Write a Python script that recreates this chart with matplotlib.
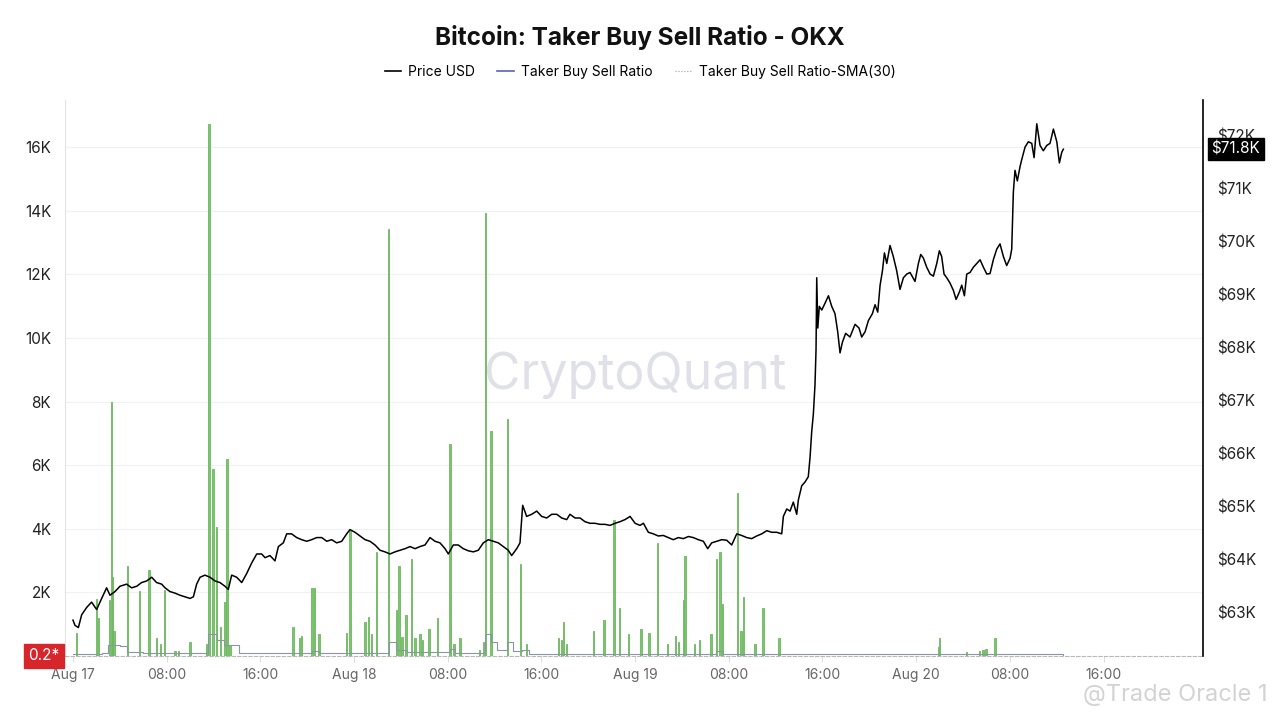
import matplotlib
matplotlib.use("Agg")
import matplotlib.pyplot as plt
from matplotlib.lines import Line2D
import numpy as np

plt.rcParams['font.family'] = ['Inter', 'DejaVu Sans']

# hours since Aug 17 00:00
price_hours = [
    0.0, 0.17, 0.46, 0.74, 1.17, 1.59, 2.02, 2.45, 2.87, 3.16, 3.59, 4.01, 4.58, 5.01, 5.44,
    5.86, 6.29, 6.72, 7.14, 7.57, 7.86, 8.28, 8.71, 9.14, 9.56, 9.99, 10.28, 10.56, 10.85,
    11.27, 11.70, 12.13, 12.55, 12.98, 13.26, 13.55, 13.98, 14.41, 14.83, 15.26, 15.69,
    16.11, 16.40, 16.82, 17.25, 17.54, 17.96, 18.25, 18.67, 19.10, 19.53, 19.96, 20.38,
    20.81, 21.24, 21.67, 22.09, 22.52, 22.95, 23.37,
    23.65, 24.08, 24.51, 24.94, 25.36, 25.79, 26.22, 26.64, 27.07, 27.50, 27.92, 28.35,
    28.78, 29.21, 29.63, 30.06, 30.49, 30.91, 31.34, 31.77, 32.05, 32.48, 32.90, 33.33,
    33.76, 34.18, 34.61, 35.04, 35.47, 35.89, 36.32, 36.75, 37.17, 37.46, 37.89, 38.17,
    38.40, 38.74, 39.17, 39.60, 40.02, 40.45, 40.88, 41.31, 41.73, 42.16, 42.44, 42.87,
    43.30, 43.72, 44.15, 44.58, 45.00, 45.43, 45.86, 46.29, 46.71, 47.14, 47.57,
    48.00, 48.42, 48.71, 49.13, 49.56, 49.98, 50.41, 50.84, 51.26, 51.69, 52.12, 52.55,
    52.97, 53.40, 53.83, 54.20, 54.54, 54.97, 55.40, 55.82, 56.25, 56.68, 57.10, 57.53,
    57.96, 58.38, 58.81, 59.24, 59.67, 60.09, 60.52, 60.66, 60.95, 61.23, 61.51, 61.80,
    61.94, 62.23, 62.51, 62.79, 62.94, 63.08, 63.22, 63.36, 63.45, 63.51, 63.60, 63.73,
    63.94, 64.22, 64.51, 64.79, 65.07, 65.30, 65.50, 65.70, 65.98, 66.35, 66.78, 67.12,
    67.35, 67.64, 67.92, 68.26, 68.49, 68.72, 68.92, 69.12, 69.29, 69.49, 69.77, 70.05,
    70.34,
    70.62, 70.91, 71.20, 71.48, 71.90, 72.19, 72.39, 72.62, 72.90, 73.19, 73.47, 73.76,
    73.98, 74.18, 74.38, 74.61, 74.89, 75.18, 75.41, 75.69, 75.89, 76.12, 76.32, 76.60,
    76.89, 77.17, 77.46, 77.74, 78.03, 78.31, 78.59, 78.88, 79.16, 79.45, 79.73, 80.02,
    80.16, 80.30, 80.44, 80.64, 80.87, 81.01, 81.30, 81.58, 81.87, 82.07, 82.30, 82.58,
    82.86, 83.15, 83.43, 83.72, 84.01, 84.23, 84.43, 84.57,
]
# price in thousands of USD
price_usd = [
    62.85, 62.75, 62.71, 62.95, 63.09, 63.19, 63.05, 63.26, 63.46, 63.32, 63.39, 63.49, 63.53,
    63.46, 63.49, 63.56, 63.59, 63.66, 63.56, 63.53, 63.46, 63.39, 63.36, 63.32, 63.29, 63.26,
    63.29, 63.53, 63.66, 63.70, 63.66, 63.59, 63.56, 63.49, 63.43, 63.70, 63.66, 63.56, 63.73,
    63.93, 64.10, 64.10, 64.03, 64.07, 63.97, 64.24, 64.31, 64.48, 64.48, 64.41, 64.37, 64.34,
    64.37, 64.41, 64.41, 64.34, 64.37, 64.31, 64.34, 64.48,
    64.56, 64.51, 64.44, 64.37, 64.34, 64.27, 64.17, 64.14, 64.10, 64.14, 64.17, 64.20, 64.24,
    64.20, 64.24, 64.27, 64.41, 64.34, 64.31, 64.20, 64.10, 64.27, 64.27, 64.20, 64.16, 64.14,
    64.17, 64.31, 64.37, 64.34, 64.31, 64.24, 64.17, 64.07, 64.20, 64.31, 65.02, 64.81, 64.85,
    64.91, 64.81, 64.78, 64.85, 64.85, 64.78, 64.75, 64.85, 64.78, 64.78, 64.71, 64.68, 64.68,
    64.66, 64.66, 64.64, 64.68, 64.71, 64.75, 64.81,
    64.68, 64.64, 64.68, 64.51, 64.48, 64.44, 64.45, 64.41, 64.37, 64.41, 64.39, 64.43, 64.41,
    64.37, 64.34, 64.20, 64.31, 64.34, 64.37, 64.36, 64.27, 64.48, 64.45, 64.41, 64.39, 64.44,
    64.48, 64.54, 64.51, 64.51, 64.48, 64.81, 64.95, 64.91, 65.08, 64.85, 65.12, 65.39, 65.46,
    65.56, 65.93, 66.41, 66.74, 67.29, 67.96, 69.32, 68.37, 68.78, 68.71, 68.84, 68.98, 68.78,
    68.64, 68.30, 67.90, 68.10, 68.27, 68.20, 68.44, 68.37, 68.20, 68.30, 68.51, 68.64, 68.81,
    68.67, 69.18, 69.45, 69.79, 69.59, 69.93, 69.72, 69.45,
    69.10, 69.32, 69.39, 69.42, 69.25, 69.59, 69.76, 69.69, 69.52, 69.39, 69.35, 69.59, 69.83,
    69.72, 69.39, 69.32, 69.22, 69.08, 68.91, 69.05, 69.18, 68.98, 69.39, 69.42, 69.52, 69.59,
    69.66, 69.52, 69.39, 69.40, 69.66, 69.86, 69.96, 69.72, 69.55, 69.69, 69.86, 70.94, 71.35,
    71.15, 71.42, 71.55, 71.79, 71.89, 71.86, 71.59, 72.23, 71.82, 71.72, 71.82, 71.86, 72.13,
    71.89, 71.49, 71.69, 71.75,
]

# taker buy sell ratio spikes (thousands)
ratio_hours = [
    0.31, 2.02, 2.16, 3.10, 3.27, 3.38, 3.50, 4.64, 5.69, 6.49, 7.14, 7.45, 7.80, 8.70, 9.00,
    9.99, 11.41, 11.61, 11.96, 12.27, 12.58, 12.98, 13.15, 13.40, 18.79, 19.33, 19.53, 20.41,
    20.61, 21.01, 23.37, 23.65, 24.94, 25.22, 25.50, 25.93, 26.96, 27.64, 27.84, 28.10, 28.44,
    28.89, 29.20, 29.63, 29.85, 30.40, 31.11, 32.19, 32.55, 33.05, 34.70, 35.04, 35.21, 35.70,
    37.12, 38.23, 38.75, 41.45, 41.70, 41.90, 42.15, 44.43, 45.34, 46.20, 46.65, 47.42, 48.50,
    49.19, 49.93, 50.75, 51.47, 51.70, 52.12, 52.26, 53.05, 53.50, 54.48, 54.97, 55.25, 55.45,
    56.76, 57.05, 57.27, 58.24, 58.92, 60.29, 73.90, 73.98, 76.30, 77.40, 77.70, 77.95, 78.73,
]
ratio_values = [
    0.73, 1.80, 1.18, 1.75, 7.97, 2.48, 0.79, 2.82, 2.03, 2.70, 0.56, 0.39, 2.08, 0.17, 0.15,
    0.45, 0.39, 16.71, 5.88, 4.06, 0.90, 1.69, 6.20, 0.35, 0.90, 0.56, 0.62, 2.14,
    2.14, 0.68, 0.73, 3.94, 1.07, 1.24, 0.68, 3.27, 13.41, 1.46, 2.82, 0.60, 1.30,
    3.04, 0.55, 0.68, 0.50, 0.85, 1.18, 6.65, 0.39, 0.56, 0.20, 0.45, 13.94, 7.06,
    7.46, 2.90, 0.39, 0.56, 0.50, 1.07, 0.39, 0.79, 1.13, 4.28, 1.52, 0.68, 0.85,
    0.73, 3.55, 0.39, 0.62, 0.45, 1.75, 3.15, 0.39, 0.50, 0.68, 3.04, 3.27, 1.63,
    5.13, 0.79, 1.86, 0.39, 1.52, 0.56, 0.28, 0.56, 0.11, 0.15, 0.20, 0.22, 0.56,
]

# SMA(30) of the ratio, step values (thousands)
sma_hours = [0, 2.5, 3.0, 4.0, 4.6, 6.0, 11.4, 11.5, 12.3, 12.9, 13.5, 14.2, 20.4, 21.0,
             26.9, 27.0, 27.6, 28.5, 32.2, 32.6, 35.2, 35.7, 36.2, 37.1, 37.6, 38.3, 38.9,
             54.9, 55.5, 84.57]
sma_values = [0.05, 0.08, 0.35, 0.30, 0.12, 0.08, 0.08, 0.68, 0.50, 0.35, 0.34, 0.10, 0.15,
              0.08, 0.08, 0.45, 0.20, 0.12, 0.22, 0.10, 0.68, 0.45, 0.20, 0.45, 0.15, 0.20,
              0.06, 0.15, 0.06, 0.03]

last_ratio = 0.2

x_tick_hours = [0, 8, 16, 24, 32, 40, 48, 56, 64, 72, 80, 88]
x_tick_labels = ["Aug 17", "08:00", "16:00", "Aug 18", "08:00", "16:00",
                 "Aug 19", "08:00", "16:00", "Aug 20", "08:00", "16:00"]
left_ticks = [2, 4, 6, 8, 10, 12, 14, 16]
right_ticks = [63, 64, 65, 66, 67, 68, 69, 70, 71, 72]

fig = plt.figure(figsize=(12.8, 7.2), dpi=100)
ax = fig.add_axes([0.0508, 0.0889, 0.8891, 0.7722])
ax2 = ax.twinx()

ax.bar(ratio_hours, ratio_values, width=0.12, color="#7cc46f", edgecolor="#6cb85e",
       linewidth=0.6, zorder=2)
ax.step(sma_hours, sma_values, where="post", color="#8c95a8", lw=0.8, zorder=3)
ax2.plot(price_hours, price_usd, color="black", lw=1.1, zorder=4)

ax.set_xlim(-0.68, 96.5)
ax.set_ylim(0, 17.48)
ax2.set_ylim(62.172, 62.172 + 0.6011 * 17.48)

ax.set_yticks(left_ticks)
ax.set_yticklabels([f"{v}K" for v in left_ticks], fontsize=11, color="#222222")
ax2.set_yticks(right_ticks)
ax2.set_yticklabels([f"${v}K" for v in right_ticks], fontsize=11, color="#222222")
ax.set_xticks(x_tick_hours)
ax.set_xticklabels(x_tick_labels, fontsize=10, color="#666666")

ax.tick_params(axis="y", length=0, pad=10)
ax2.tick_params(axis="y", length=0, pad=10)
ax.tick_params(axis="x", length=4, color="#dddddd", pad=5)
ax.grid(axis="y", color="#f1f1f1", lw=0.8)
ax.set_axisbelow(True)

for s in ["top"]:
    ax.spines[s].set_visible(False)
    ax2.spines[s].set_visible(False)
ax.spines["left"].set_color("#e3e3e3")
ax2.spines["left"].set_visible(False)
ax.spines["right"].set_visible(False)
ax2.spines["right"].set_color("black")
ax2.spines["right"].set_linewidth(1.2)
ax.spines["bottom"].set_color("#b8b8b8")
ax.spines["bottom"].set_linestyle((0, (3, 2)))
ax2.spines["bottom"].set_visible(False)

# last value labels
ax2.annotate(f"${price_usd[-1]:.1f}K", xy=(1, price_usd[-1]), xycoords=("axes fraction", "data"),
             xytext=(6, 0), textcoords="offset points", ha="left", va="center",
             fontsize=11, color="white", zorder=10, annotation_clip=False,
             bbox=dict(boxstyle="square,pad=0.25", fc="black", ec="black"))
ax.annotate(f"{last_ratio}*", xy=(0, 0), xycoords=("axes fraction", "data"),
            xytext=(-4, 0), textcoords="offset points", ha="right", va="center",
            fontsize=11, color="white", zorder=10, annotation_clip=False,
            bbox=dict(boxstyle="square,pad=0.3", fc="#d7262b", ec="#d7262b"))

fig.text(0.5, 0.948, "Bitcoin: Taker Buy Sell Ratio - OKX", ha="center", va="center",
         fontsize=17.5, fontweight="bold", color="#111111")

handles = [Line2D([], [], color="black", lw=1.2),
           Line2D([], [], color="#5b5fc7", lw=1.2),
           Line2D([], [], color="#9aa0aa", lw=0.8, ls=":")]
fig.legend(handles, ["Price USD", "Taker Buy Sell Ratio", "Taker Buy Sell Ratio-SMA(30)"],
           loc="center", bbox_to_anchor=(0.5, 0.9), ncol=3, frameon=False, fontsize=10,
           handlelength=1.2, handletextpad=0.5, columnspacing=1.6)

# watermarks
fig.text(0.496, 0.479, "CryptoQuant", ha="center", va="center", fontsize=36,
         color="#e0e0e8", zorder=0)
fig.text(0.99, 0.035, "@Trade Oracle 1", ha="right", va="center", fontsize=17,
         color="#cfcfcf", alpha=0.9)

fig.savefig("out.png", dpi=100)
